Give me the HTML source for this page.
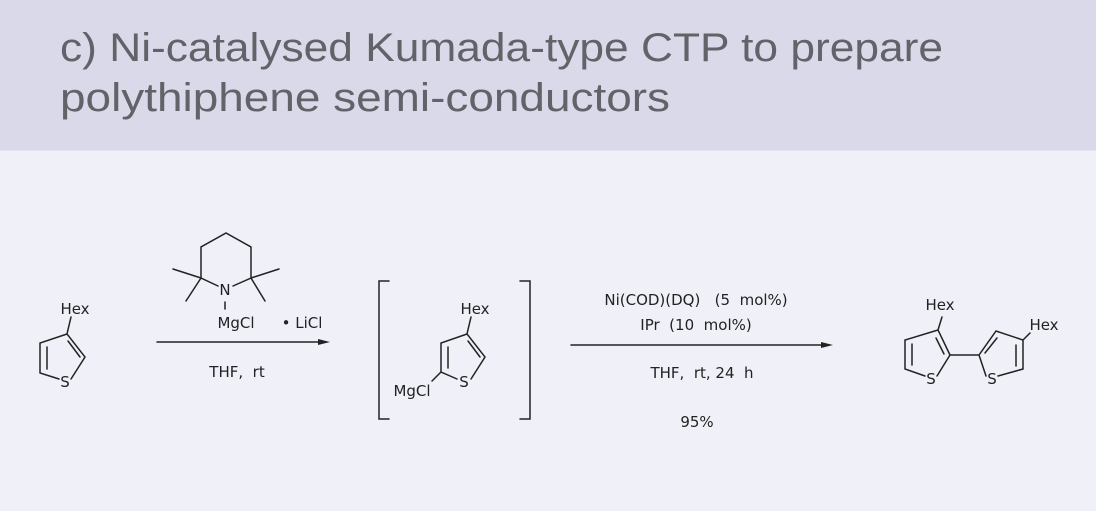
<!DOCTYPE html>
<html><head><meta charset="utf-8"><style>
html,body{margin:0;padding:0;width:1096px;height:511px;overflow:hidden;background:#f0f0f8}
</style></head><body>
<svg width="1096" height="511" viewBox="0 0 1096 511" xmlns="http://www.w3.org/2000/svg">
<rect x="0" y="0" width="1096" height="150" fill="#d9d9ea"/>
<rect x="0" y="150" width="1096" height="361" fill="#f0f0f8"/>
<line x1="0" y1="150.5" x2="1096" y2="150.5" stroke="#e4e4ef" stroke-width="1"/>
<g font-family="Liberation Sans, sans-serif" font-size="40" fill="#626268">
<text x="60" y="61" textLength="883" lengthAdjust="spacingAndGlyphs">c) Ni-catalysed Kumada-type CTP to prepare</text>
<text x="60" y="111" textLength="610" lengthAdjust="spacingAndGlyphs">polythiphene semi-conductors</text>
</g>
<g stroke="#222" stroke-width="1.5" fill="none" stroke-linecap="round">
<path d="M71,317 L67,334 L85,357 L71,379 M59,379 L40,373 L40,343 L67,334"/>
<path d="M47,347 L47,369 M68,341 L80,357"/>
<path d="M218,286 L201,278 L201,247 L226,233 L251,247 L251,278 L233,286"/>
<path d="M201,278 L173,269 M201,278 L186,301 M251,278 L279,269 M251,278 L265,301 M225,302 L225,309"/>
<line x1="157" y1="342" x2="322" y2="342"/>
<path d="M389,281 L379,281 L379,419 L389,419 M520,281 L530,281 L530,419 L520,419"/>
<path d="M471,317 L467,334 L485,357 L471,379 M457,379 L441,372 L441,343 L467,334 M441,372 L432,381"/>
<path d="M448,347 L448,368 M468,341 L480,357"/>
<line x1="571" y1="345" x2="826" y2="345"/>
<path d="M942,317 L938,330 L950,355 L937,376 M925,376 L905,369 L905,340 L938,330"/>
<path d="M912,344 L912,365 M936,338 L944,354"/>
<path d="M950,355 L979,355 L996,331 L1023,340 L1023,369 L998,376 M986,376 L979,355 M1023,340 L1030,333"/>
<path d="M985,353 L997,338 M1016,345 L1016,366"/>
</g>
<g fill="#222">
<polygon points="330,342 318,339 318,345"/>
<polygon points="833,345 821,342 821,348"/>
</g>
<g font-family="DejaVu Sans, sans-serif" font-size="15" fill="#222" text-anchor="middle" dominant-baseline="central">
<text x="75" y="309">Hex</text>
<text x="65" y="382">S</text>
<text x="225" y="290">N</text>
<text x="236" y="323">MgCl</text>
<text x="302" y="323">• LiCl</text>
<text x="237" y="372">THF,&#160;&#160;rt</text>
<text x="475" y="309">Hex</text>
<text x="464" y="382">S</text>
<text x="412" y="391">MgCl</text>
<text x="696" y="300">Ni(COD)(DQ)&#160;&#160;&#160;(5&#160;&#160;mol%)</text>
<text x="696" y="325">IPr&#160;&#160;(10&#160;&#160;mol%)</text>
<text x="702" y="373">THF,&#160;&#160;rt,&#160;24&#160;&#160;h</text>
<text x="697" y="422">95%</text>
<text x="940" y="305">Hex</text>
<text x="931" y="379">S</text>
<text x="992" y="379">S</text>
<text x="1044" y="325">Hex</text>
</g>
</svg>
</body></html>
